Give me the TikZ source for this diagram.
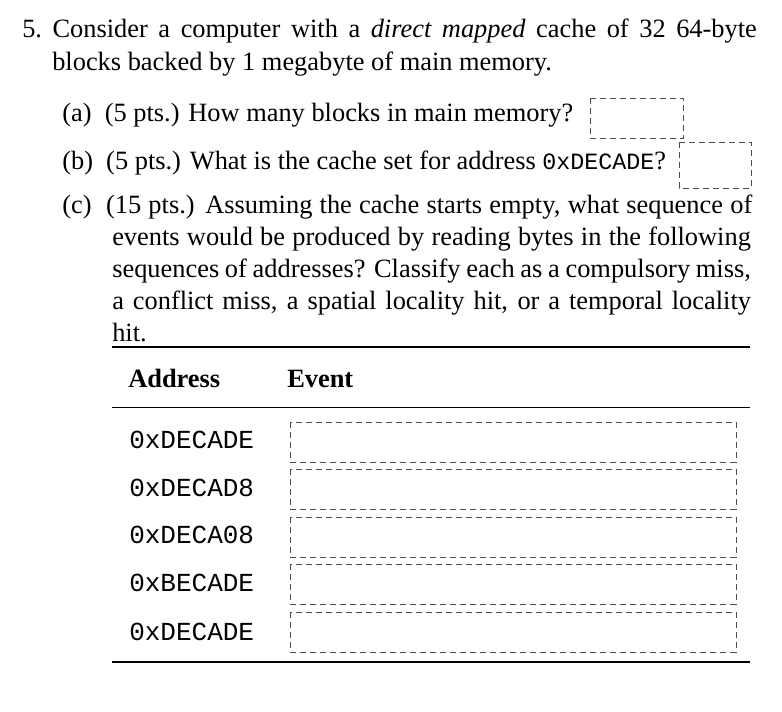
\documentclass[tikz,border=0pt]{standalone}
\usepackage{fontspec}
\setmainfont{Liberation Serif}
\setmonofont{Liberation Mono}
\begin{document}
\begin{tikzpicture}[x=0.75pt,y=-0.75pt,
  txt/.style={anchor=base west,inner sep=0pt,font=\fontsize{19.8}{24}\selectfont},
  mono/.style={anchor=base west,inner sep=0pt,font=\fontsize{19.5}{24}\selectfont\ttfamily},
  ans/.style={draw=black!70,dashed,dash pattern=on 4.5pt off 3pt,line width=0.6pt},
  thick rule/.style={line width=1.4pt},
  thin rule/.style={line width=0.7pt}]
\useasboundingbox (0,0) rectangle (782,712);
\node[txt] (l1) at (22,38) {\hbox to 551pt{5.\ Consider a computer with a \textit{direct mapped} cache of 32 64-byte}};
\node[txt] (l2) at (52,71) {blocks backed by 1 megabyte of main memory.};
\node[txt] (a) at (62,122) {(a)\ \ (5 pts.) How many blocks in main memory?};
\node[txt] (b) at (62,170) {(b)\ \ (5 pts.) What is the cache set for address {\fontsize{17.5}{24}\selectfont\ttfamily 0xDECADE}?};
\node[txt] (c) at (62,214) {\hbox to 517.5pt{(c)\ \ (15 pts.) Assuming the cache starts empty, what sequence of}};
\node[txt] (c2) at (112,246) {\hbox to 479pt{events would be produced by reading bytes in the following}};
\node[txt] (c3) at (112,278) {\hbox to 479pt{sequences of addresses? Classify each as a compulsory miss,}};
\node[txt] (c4) at (112,310) {\hbox to 479pt{a conflict miss, a spatial locality hit, or a temporal locality}};
\node[txt] (c5) at (112,342) {hit.};
\draw[ans] (590,98) rectangle (683,138);
\draw[ans] (679,142) rectangle (751,188);
\draw[thick rule] (112,347) -- (750,347);
\node[txt,font=\fontsize{19.8}{24}\selectfont\bfseries] (h1) at (128,388) {Address};
\node[txt,font=\fontsize{19.8}{24}\selectfont\bfseries] (h2) at (287,388) {Event};
\draw[thin rule] (112,407) -- (750,407);
\foreach \t/\lab/\yb in {422/0xDECADE/449, 469/0xDECAD8/497, 517/0xDECA08/544, 564/0xBECADE/592, 612/0xDECADE/640}{
  \draw[ans] (290,\t) rectangle (736,\t+40);
  \node[mono] at (129,\yb) {\lab};
}
\draw[thick rule] (112,662) -- (750,662);
\end{tikzpicture}
\end{document}
